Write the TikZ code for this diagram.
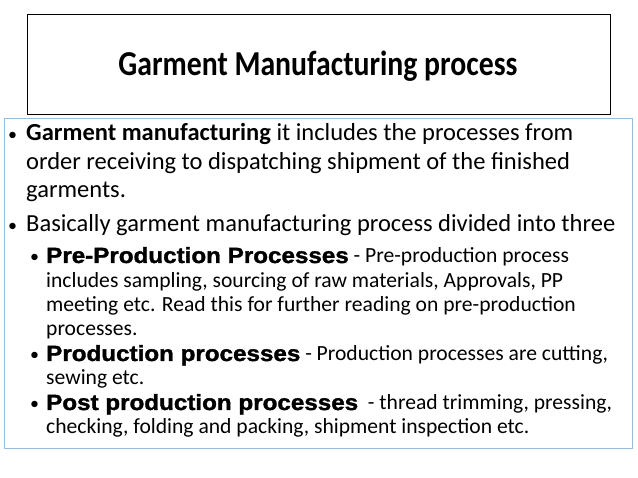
\documentclass[tikz,border=0pt]{standalone}
\usepackage{fontspec}
\setmainfont{Carlito}
\newfontfamily\blk[FakeStretch=1.1,FakeBold=1.5]{Liberation Sans Bold}
\newfontfamily\ttl[FakeStretch=0.85]{Carlito Bold}
\begin{document}
\begin{tikzpicture}[x=1pt,y=-1pt,
  ln/.style={anchor=base west,inner sep=0pt,font=\fontsize{24.5}{28}\selectfont},
  sl/.style={anchor=base west,inner sep=0pt,font=\fontsize{21.6}{24}\selectfont},
  bu/.style={anchor=base west,inner sep=0pt,font=\fontsize{18}{20}\selectfont}]
\useasboundingbox (0,0) rectangle (638,478);
\node[draw=black,line width=0.6pt,minimum width=583pt,minimum height=100pt,anchor=north west] (tb) at (27,14) {};
\node[font=\fontsize{35}{38}\selectfont\ttl] (title) at (318,66) {Garment Manufacturing process};
\node[draw={rgb,255:red,150;green,190;blue,225},line width=0.8pt,minimum width=628pt,minimum height=330pt,anchor=north west] (cb) at (4,118) {};
\node[bu] (b1) at (8,141) {•};
\node[ln] (l1) at (26,141) {\textbf{Garment manufacturing} it includes the processes from};
\node[ln] (l2) at (26,170) {order receiving to dispatching shipment of the finished};
\node[ln] (l3) at (26,198) {garments.};
\node[bu] (b2) at (8,232) {•};
\node[ln] (l4) at (26,232) {Basically garment manufacturing process divided into three};
\node[bu] (s1b) at (30,263) {•};
\node[sl] (s1) at (46,263) {{\blk\fontsize{22}{24}\selectfont Pre-Production Processes} - Pre-production process};
\node[sl] (s2) at (46,288) {includes sampling, sourcing of raw materials, Approvals, PP};
\node[sl] (s3) at (46,312) {meeting etc. Read this for further reading on pre-production};
\node[sl] (s4) at (46,336) {processes.};
\node[bu] (s2b) at (30,361) {•};
\node[sl] (s5) at (46,361) {{\blk\fontsize{22}{24}\selectfont Production processes} - Production processes are cutting,};
\node[sl] (s6) at (46,385) {sewing etc.};
\node[bu] (s3b) at (30,410) {•};
\node[sl] (s7) at (46,410) {{\blk\fontsize{22}{24}\selectfont Post production processes} \ - thread trimming, pressing,};
\node[sl] (s8) at (46,434) {checking, folding and packing, shipment inspection etc.};
\end{tikzpicture}
\end{document}
